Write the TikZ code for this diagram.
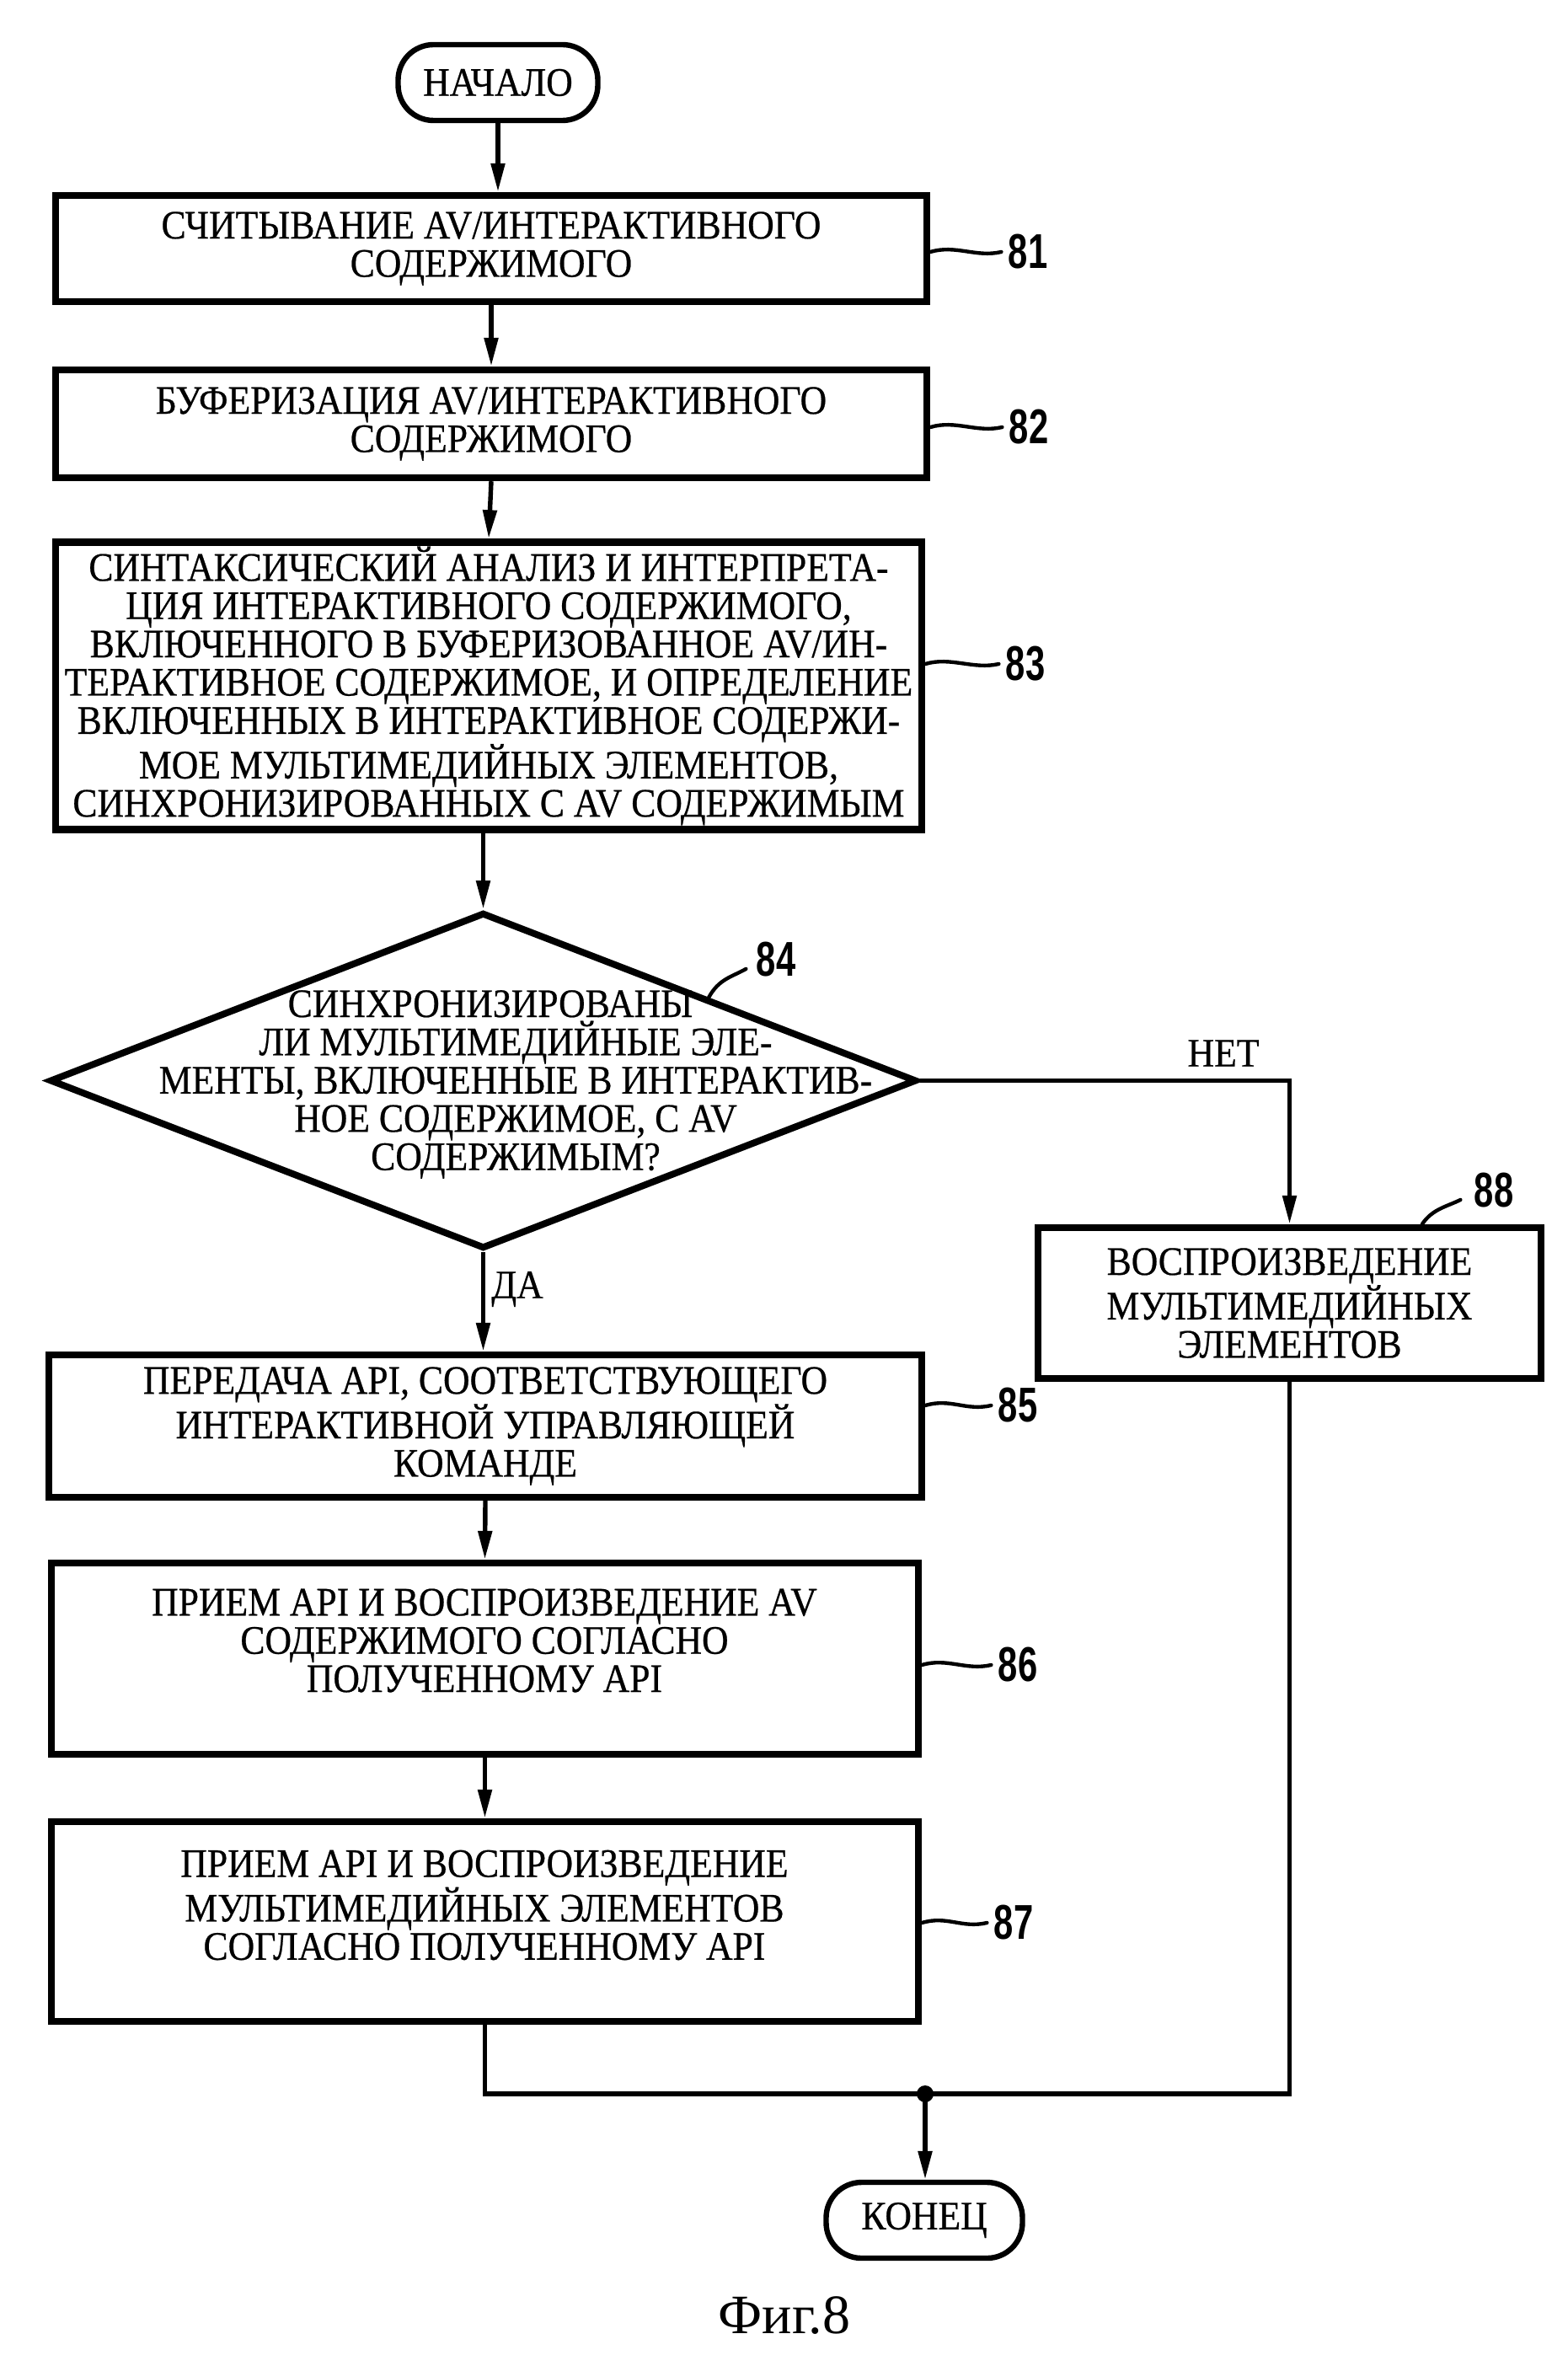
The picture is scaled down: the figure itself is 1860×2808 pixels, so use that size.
\documentclass[tikz,border=0pt]{standalone}
\usepackage{fontspec}
\setmainfont[FakeStretch=0.91,FakeBold=0.5]{Liberation Serif}
\newfontfamily\figfont{Liberation Serif}
\newfontfamily\numfont[FakeStretch=0.72]{Liberation Sans}
\usetikzlibrary{arrows.meta,shapes.geometric,calc}
\newcommand\myTxt{\fontsize{24}{22.7}\selectfont}
\newcommand\myNum{\numfont\bfseries\fontsize{29}{30}\selectfont}
\begin{document}
\begin{tikzpicture}[x=0.5pt,y=-0.5pt,
  box/.style={draw,line width=4.2pt,inner sep=0pt,align=center,font=\myTxt},
  term/.style={draw,line width=3.2pt,rounded corners=21pt,inner sep=0pt,font=\myTxt},
  dia/.style={draw,diamond,line width=4pt,inner sep=0pt,minimum width=514.5pt,minimum height=199.5pt},
  txt/.style={inner sep=0pt,align=center,font=\myTxt},
  num/.style={inner sep=0pt,font=\myNum},
  conn/.style={draw,line width=2.7pt},
  arr/.style={draw,line width=2.7pt,-{Triangle[length=17pt,width=8pt]}},
  lead/.style={draw,line width=2.2pt,line cap=round}]
\fill[white] (0,0) rectangle (1860,2808);
\useasboundingbox (0,0) rectangle (1860,2808);

% nodes
\node[term,minimum width=118.5pt,minimum height=45pt] (start) at (591,98) {НАЧАЛО};
\node[box,minimum width=517pt,minimum height=63pt] (b81) at (583,295)
  {СЧИТЫВАНИЕ AV/ИНТЕРАКТИВНОГО\\СОДЕРЖИМОГО};
\node[box,minimum width=517pt,minimum height=64pt] (b82) at (583,503)
  {БУФЕРИЗАЦИЯ AV/ИНТЕРАКТИВНОГО\\СОДЕРЖИМОГО};
\node[box,minimum width=514pt,minimum height=170.5pt] (b83) at (580,814)
  {СИНТАКСИЧЕСКИЙ АНАЛИЗ И ИНТЕРПРЕТА-\\ЦИЯ ИНТЕРАКТИВНОГО СОДЕРЖИМОГО,\\ВКЛЮЧЕННОГО В БУФЕРИЗОВАННОЕ AV/ИН-\\ТЕРАКТИВНОЕ СОДЕРЖИМОЕ, И ОПРЕДЕЛЕНИЕ\\ВКЛЮЧЕННЫХ В ИНТЕРАКТИВНОЕ СОДЕРЖИ-\\МОЕ МУЛЬТИМЕДИЙНЫХ ЭЛЕМЕНТОВ,\\СИНХРОНИЗИРОВАННЫХ С AV СОДЕРЖИМЫМ};
\node[dia] (d) at (573.5,1282.5) {};
\node[txt] (dt) at (612,1287)
  {СИНХРОНИЗИРОВАНЫ\hspace*{30pt}\\ЛИ МУЛЬТИМЕДИЙНЫЕ ЭЛЕ-\\МЕНТЫ, ВКЛЮЧЕННЫЕ В ИНТЕРАКТИВ-\\НОЕ СОДЕРЖИМОЕ, С AV\\СОДЕРЖИМЫМ?};
\node[box,minimum width=298.5pt,minimum height=89.5pt] (b88) at (1530.5,1546.5)
  {ВОСПРОИЗВЕДЕНИЕ\\МУЛЬТИМЕДИЙНЫХ\\ЭЛЕМЕНТОВ};
\node[box,minimum width=518pt,minimum height=84.5pt] (b85) at (576,1692.5)
  {ПЕРЕДАЧА API, СООТВЕТСТВУЮЩЕГО\\ИНТЕРАКТИВНОЙ УПРАВЛЯЮЩЕЙ\\КОМАНДЕ};
\node[box,minimum width=514.5pt,minimum height=113.5pt] (b86) at (575.5,1968.5) {};
\node[txt] (t86) at (575,1947)
  {ПРИЕМ API И ВОСПРОИЗВЕДЕНИЕ AV\\СОДЕРЖИМОГО СОГЛАСНО\\ПОЛУЧЕННОМУ API};
\node[box,minimum width=514.5pt,minimum height=118.5pt] (b87) at (575.5,2280.5) {};
\node[txt] (t87) at (575,2261)
  {ПРИЕМ API И ВОСПРОИЗВЕДЕНИЕ\\МУЛЬТИМЕДИЙНЫХ ЭЛЕМЕНТОВ\\СОГЛАСНО ПОЛУЧЕННОМУ API};
\node[term,minimum width=116.5pt,minimum height=45pt] (end) at (1097,2635) {КОНЕЦ};
\node[font=\figfont\fontsize{33}{35}\selectfont,inner sep=0pt] (fig) at (931,2748) {Фиг.8};

% branch labels
\node[txt] (no) at (1452,1250) {НЕТ};
\node[txt] (yes) at (614,1530) {ДА};

% reference numbers
\node[num] (l81) at (1220,299) {81};
\node[num] (l82) at (1221,507) {82};
\node[num] (l83) at (1217,788) {83};
\node[num] (l84) at (921,1139) {84};
\node[num] (l85) at (1208,1668) {85};
\node[num] (l86) at (1208,1976) {86};
\node[num] (l87) at (1203,2282) {87};
\node[num] (l88) at (1773,1413) {88};

% leaders
\foreach \b in {81,82,83,85,86,87}{
  \draw[lead] (b\b.east |- l\b.west) .. controls +(30,-9) and +(-30,7) .. ([xshift=-4pt]l\b.west);
}
\draw[lead] ($(d.north)!0.516!(d.east)$) .. controls +(12,-22) and +(-18,10) .. ([shift={(-6pt,5pt)}]l84.south west);
\draw[lead] ($(b88.north west)!0.76!(b88.north east)$) .. controls +(12,-18) and +(-16,8) .. ([shift={(-8pt,5pt)}]l88.south west);

% connectors
\coordinate (m) at (1098,2485);
\draw[arr] (start.south) -- (start.south |- b81.north);
\draw[arr] (b81.south) -- (b82.north);
\draw[arr] (b82.south) -- (b83.north);
\draw[arr] (d.north |- b83.south) -- (d.north);
\draw[arr] (d.south) -- (d.south |- b85.north);
\draw[arr] (d.east) -| (b88.north);
\draw[arr] (b85.south) -- (b86.north);
\draw[arr] (b86.south) -- (b87.north);
\draw[conn] (b87.south) |- (b88.south |- m) -- (b88.south);
\fill (m) circle (5pt);
\draw[arr] (m) -- (m |- end.north);
\end{tikzpicture}
\end{document}
